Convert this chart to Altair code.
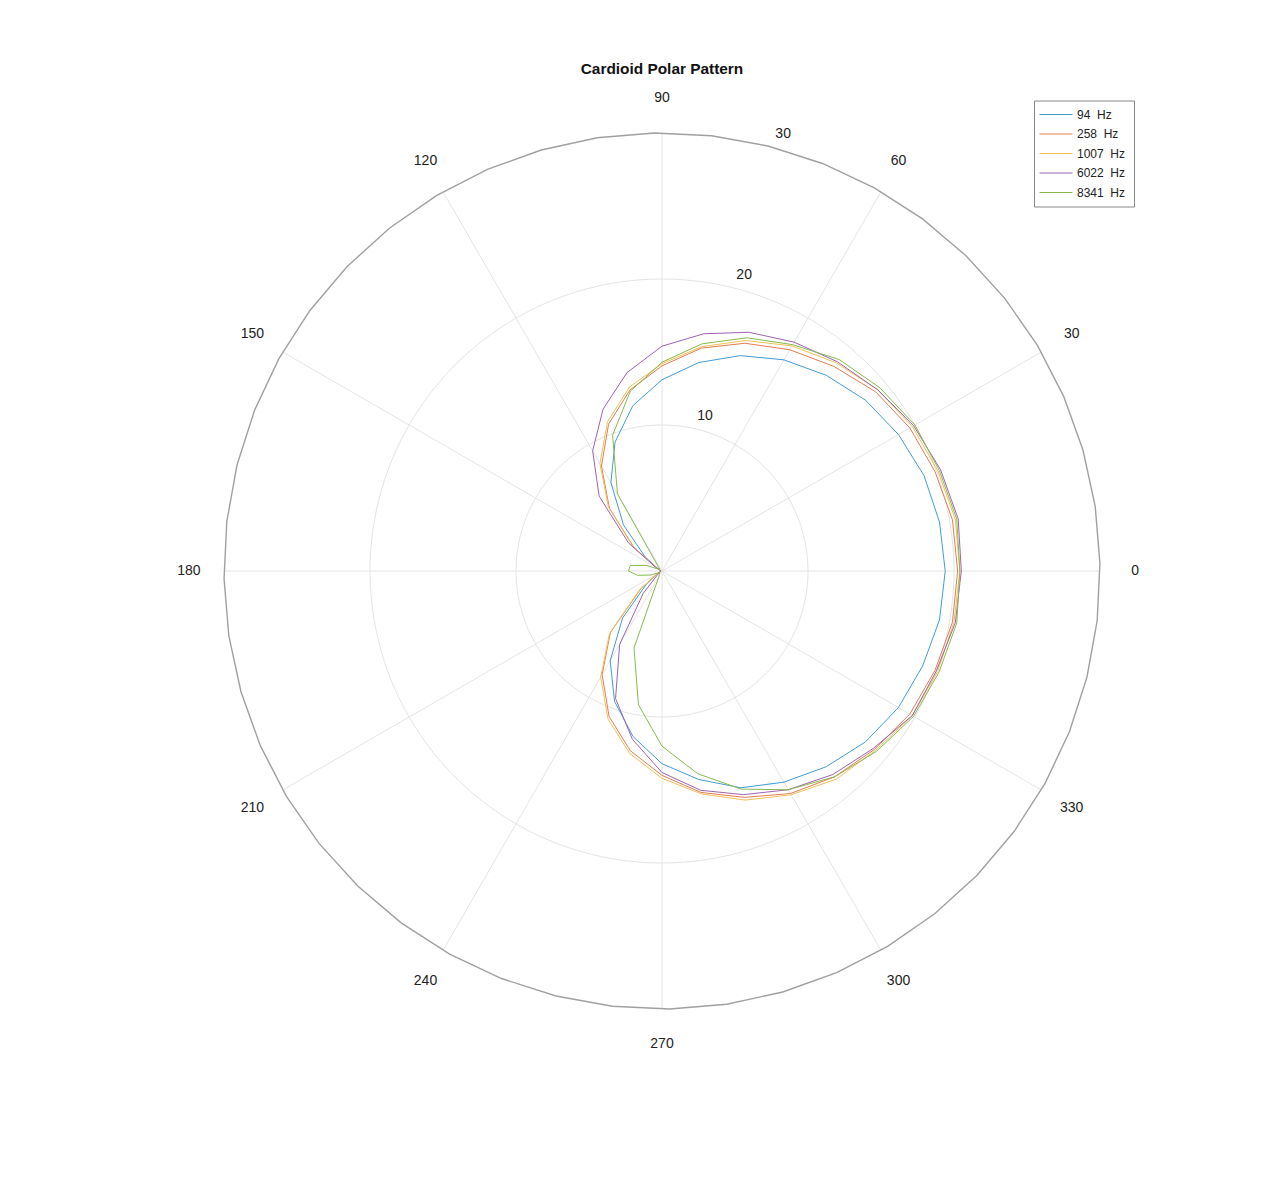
import altair as alt
import numpy as np
import pandas as pd

# ---------------- data ----------------
angles = list(range(0, 360, 10))

series_names = ["94\u00a0\u00a0Hz", "258\u00a0\u00a0Hz", "1007\u00a0\u00a0Hz",
                "6022\u00a0\u00a0Hz", "8341\u00a0\u00a0Hz"]
series_colors = ["#429cd6", "#e37d52", "#f1c155", "#a062b4", "#88ba4e"]

r_94 = [19.4, 19.3, 19.1, 18.7, 18.2, 17.5, 16.7, 15.7, 14.5, 13.1,
        11.5, 9.4, 7.0, 4.1, 1.5, 0.3, 0.1, 0.1, 0.1, 0.1,
        0.1, 0.3, 1.4, 4.2, 7.1, 9.5, 11.5, 13.2, 14.5, 15.8,
        16.7, 17.5, 18.2, 18.7, 19.0, 19.3]
r_258 = [20.25, 20.2, 19.9, 19.6, 19.1, 18.3, 17.5, 16.6, 15.5, 14.05,
         12.6, 10.7, 8.3, 5.6, 2.5, 0.4, 0.1, 0.1, 0.1, 0.1,
         0.1, 0.4, 1.9, 5.5, 8.2, 10.6, 12.5, 14.0, 15.4, 16.5,
         17.6, 18.4, 19.0, 19.6, 19.9, 20.2]
r_1007 = [20.4, 20.4, 20.1, 19.8, 19.3, 18.6, 17.8, 16.8, 15.6, 14.2,
          12.8, 10.9, 8.5, 5.7, 2.6, 0.4, 0.1, 0.1, 0.1, 0.1,
          0.1, 0.4, 2.0, 5.6, 8.4, 10.8, 12.7, 14.2, 15.5, 16.7,
          17.7, 18.6, 19.1, 19.8, 20.1, 20.3]
r_6022 = [20.5, 20.6, 20.3, 19.9, 19.3, 18.7, 18.1, 17.4, 16.5, 15.4,
          13.8, 11.8, 9.5, 6.7, 3.0, 0.5, 0.1, 0.1, 0.1, 0.1,
          0.1, 0.3, 0.4, 2.0, 5.8, 9.3, 11.7, 13.8, 15.25, 16.3,
          17.3, 18.2, 18.9, 19.8, 20.0, 20.4]
r_8341 = [20.4, 20.5, 20.2, 20.0, 19.5, 18.9, 17.9, 17.0, 15.8, 14.3,
          12.5, 9.9, 6.1, 0.4, 0.2, 0.2, 1.1, 2.2, 2.3, 1.7,
          0.8, 0.2, 0.2, 0.3, 0.4, 5.6, 9.3, 12.0, 14.1, 15.9,
          17.3, 18.4, 19.2, 19.9, 20.2, 20.5]

grid_r = [10, 20]
r_max = 30
spoke_angles = list(range(0, 360, 30))
angle_labels = [str(a) for a in spoke_angles]
radial_ticks = [10, 20, 30]

# ---------------- tables ----------------
rows = []
for name, vals in zip(series_names, [r_94, r_258, r_1007, r_6022, r_8341]):
    for a, v in zip(angles, vals):
        rows.append({"series": name, "angle": a, "r": v})
curve_df = pd.DataFrame(rows)

ring_rows = []
for g in grid_r:
    for a in np.arange(0, 361, 2):
        ring_rows.append({"ring": g, "angle": float(a), "r": g})
ring_df = pd.DataFrame(ring_rows)

outer_df = pd.DataFrame({"angle": np.arange(1.0, 361.0, 7.5), "r": r_max})
spoke_df = pd.DataFrame({"angle": spoke_angles, "r": r_max})
alab_df = pd.DataFrame({"angle": spoke_angles, "label": angle_labels, "r": r_max + 2.4})
rlab_df = pd.DataFrame({"angle": 74.5, "label": [str(t) for t in radial_ticks],
                        "r": [t + 1.05 for t in radial_ticks]})

xs = alt.Scale(domain=[-r_max, r_max], nice=False, zero=False)
ys = alt.Scale(domain=[-r_max, r_max], nice=False, zero=False)

XE = "datum.r*cos(datum.angle*PI/180)"
YE = "datum.r*sin(datum.angle*PI/180)"
FONT = "Liberation Sans"

def pos(ch):
    return ch.transform_calculate(x=XE, y=YE)

rings = pos(alt.Chart(ring_df)).mark_line(color="#e4e4e4", strokeWidth=1).encode(
    x=alt.X("x:Q", scale=xs, axis=None),
    y=alt.Y("y:Q", scale=ys, axis=None),
    detail="ring:N", order="angle:Q")

spokes = pos(alt.Chart(spoke_df)).transform_calculate(x0="0", y0="0").mark_rule(
    color="#e4e4e4", strokeWidth=1).encode(
    x=alt.X("x0:Q", scale=xs, axis=None),
    y=alt.Y("y0:Q", scale=ys, axis=None),
    x2="x:Q", y2="y:Q")

outer = pos(alt.Chart(outer_df)).mark_line(
    interpolate="linear-closed", color="#a0a0a0", strokeWidth=1.4).encode(
    x=alt.X("x:Q", scale=xs, axis=None),
    y=alt.Y("y:Q", scale=ys, axis=None),
    order="angle:Q")

curves = pos(alt.Chart(curve_df)).mark_line(
    interpolate="linear-closed", strokeWidth=1).encode(
    x=alt.X("x:Q", scale=xs, axis=None),
    y=alt.Y("y:Q", scale=ys, axis=None),
    color=alt.Color("series:N", sort=series_names,
                    scale=alt.Scale(domain=series_names, range=series_colors),
                    legend=alt.Legend(title=None, orient="none", legendX=810, legendY=-32.5,
                                      direction="vertical", symbolType="M-3.3,0H3.3",
                                      symbolSize=100, symbolStrokeWidth=1,
                                      symbolOffset=8,
                                      labelFontSize=12, labelFont=FONT, labelColor="#222",
                                      strokeColor="#888", fillColor="white",
                                      padding=8, rowPadding=7.5, labelOffset=15)),
    order="angle:Q")

alabels = pos(alt.Chart(alab_df)).mark_text(
    fontSize=14, font=FONT, color="#222", align="center", baseline="middle").encode(
    x=alt.X("x:Q", scale=xs, axis=None),
    y=alt.Y("y:Q", scale=ys, axis=None),
    text="label:N")

rlabels = pos(alt.Chart(rlab_df)).mark_text(
    fontSize=14, font=FONT, color="#222", align="center", baseline="middle").encode(
    x=alt.X("x:Q", scale=xs, axis=None),
    y=alt.Y("y:Q", scale=ys, axis=None),
    text="label:N")

chart = alt.layer(rings, spokes, outer, curves, alabels, rlabels).properties(
    width=876, height=876,
    padding={"left": 216, "top": 125, "right": 90, "bottom": 80},
    autosize=alt.AutoSizeParams(type="none"),
    title=alt.TitleParams("Cardioid Polar Pattern", fontSize=15.4, fontWeight="bold",
                          font=FONT, anchor="middle", frame="group", offset=14,
                          color="#111"),
    background="white",
).configure_view(stroke=None)

chart.save("out.html", embed_options={"renderer": "svg", "actions": False})
